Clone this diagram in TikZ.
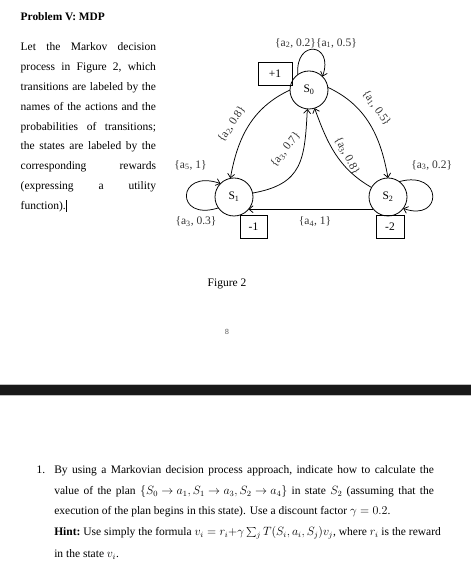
\documentclass[tikz,border=0pt]{standalone}
\usepackage{fontspec}
\setmainfont{Liberation Serif}
\newfontfamily\arialfont{Liberation Sans}
\usetikzlibrary{arrows.meta}
\newcommand\jl[2]{\hbox to #1{\frenchspacing\spaceskip=2.9pt plus 1fil\relax #2}}
\newcommand\fs{\fontsize{11.5}{13}\selectfont}
\begin{document}
\begin{tikzpicture}[x=1pt,y=1pt,
  every node/.style={inner sep=0pt, outer sep=0pt},
  state/.style={circle, draw, line width=0.8pt, minimum size=38pt, fill=white, font=\fs},
  rbox/.style={draw, line width=0.8pt, minimum height=23pt, font=\fs},
  lab/.style={text=black!80, font=\fs},
  edge/.style={draw, line width=0.75pt, -{Straight Barb[length=4pt,width=7pt]}},
  body/.style={anchor=base west, font=\fs}]
\useasboundingbox (0,0) rectangle (471,579);
\fill[white] (0,0) rectangle (471,579);

% left text
\node[body, font=\fontsize{11.4}{13}\selectfont\bfseries] (title) at (20.7,558.3) {Problem V: MDP};
\node[body] (p1) at (20.7,528) {\jl{135.3pt}{Let the Markov decision}};
\node[body] (p2) at (20.7,508.2) {\jl{135.3pt}{process in Figure 2, which}};
\node[body] (p3) at (20.7,488.4) {\jl{135.3pt}{transitions are labeled by the}};
\node[body] (p4) at (20.7,468.6) {\jl{135.3pt}{names of the actions and the}};
\node[body] (p5) at (20.7,448.8) {\jl{135.3pt}{probabilities of transitions;}};
\node[body] (p6) at (20.7,429) {\jl{135.3pt}{the states are labeled by the}};
\node[body] (p7) at (20.7,409.2) {\jl{135.3pt}{corresponding rewards}};
\node[body] (p8) at (20.7,389.4) {\jl{135.3pt}{(expressing a utility}};
\node[body] (p9) at (20.7,369.6) {function).\rule[-2.5pt]{0.7pt}{12pt}};

% states
\node[state] (S0) at (309,489) {S\textsubscript{0}};
\node[state] (S1) at (234,382) {S\textsubscript{1}};
\node[state] (S2) at (388,382) {S\textsubscript{2}};

% reward boxes
\node[rbox, minimum width=34pt] (r0) at (275,505.5) {+1};
\node[rbox, minimum width=27pt] (r1) at (253.5,352.3) {-1};
\node[rbox, minimum width=28pt] (r2) at (390,352.5) {-2};

% edges
\draw[edge] (S0.180) to[out=205,in=80] (S1.101);
\draw[edge] (S1.12) to[out=10,in=-93,looseness=1.3] (S0.-95);
\draw[edge] (S0.8) to[out=-25,in=100] (S2.90);
\draw[edge] (S2.150) to[out=150,in=-70] (S0.-73);
\draw[edge] (S2.-140) -- (S1.-40);
% self loops
\draw[edge] (S0.126) .. controls +(-3,36) and +(12,34) .. (S0.45);
\draw[edge] (S1.-145) .. controls +(-44,-14) and +(-44,15) .. (S1.135);
\draw[edge] (S2.54) .. controls +(44,12) and +(40,-14) .. (S2.-37);

% labels
\node[lab] (l0) at (316,536) {\{a\textsubscript{2}, 0.2\}\{a\textsubscript{1}, 0.5\}};
\node[lab] (l5) at (190.5,414) {\{a\textsubscript{5}, 1\}};
\node[lab] (l3a) at (196,357.3) {\{a\textsubscript{3}, 0.3\}};
\node[lab] (l3b) at (431.7,414) {\{a\textsubscript{3}, 0.2\}};
\node[lab] (l4) at (315,357.3) {\{a\textsubscript{4}, 1\}};
\node[lab, rotate=57] (l2) at (231.7,455) {\{a\textsubscript{2}, 0.8\}};
\node[lab, rotate=52] (l37) at (285.5,429.5) {\{a\textsubscript{3}, 0.7\}};
\node[lab, rotate=-55] (l1) at (376.5,471) {\{a\textsubscript{1}, 0.5\}};
\node[lab, rotate=-62] (l38) at (347,423) {\{a\textsubscript{3}, 0.8\}};

\node[font=\fs] (fig) at (227,295) {Figure 2};
\node[font=\arialfont\fontsize{7.5}{9}\selectfont, text=black!60] (pg) at (227,247) {8};

% page break bar
\fill[black!25] (0,183.3) rectangle (471,194.8);
\fill[black!90] (0,184) rectangle (471,194.2);

% question
\node[body] (q0) at (36.7,105) {1.};
\node[body] (q1) at (54.3,105) {\jl{379.7pt}{By using a Markovian decision process approach, indicate how to calculate the}};
\node[body] (q2) at (54.3,84.3) {\jl{379.7pt}{value of the plan $\{S_0 \rightarrow a_1, S_1 \rightarrow a_3, S_2 \rightarrow a_4\}$ in state $S_2$ (assuming that the}};
\node[body] (q3) at (54.3,64.3) {execution of the plan begins in this state). Use a discount factor $\gamma = 0.2$.};
\node[body] (q4) at (54.3,43.7) {\jl{379.7pt}{\textbf{Hint:} Use simply the formula $v_i = r_i + \gamma \sum_j T\big(S_i, a_i, S_j\big) v_j$, where $r_i$ is the reward}};
\node[body] (q5) at (54.3,21.7) {in the state $v_i$.};
\end{tikzpicture}
\end{document}
